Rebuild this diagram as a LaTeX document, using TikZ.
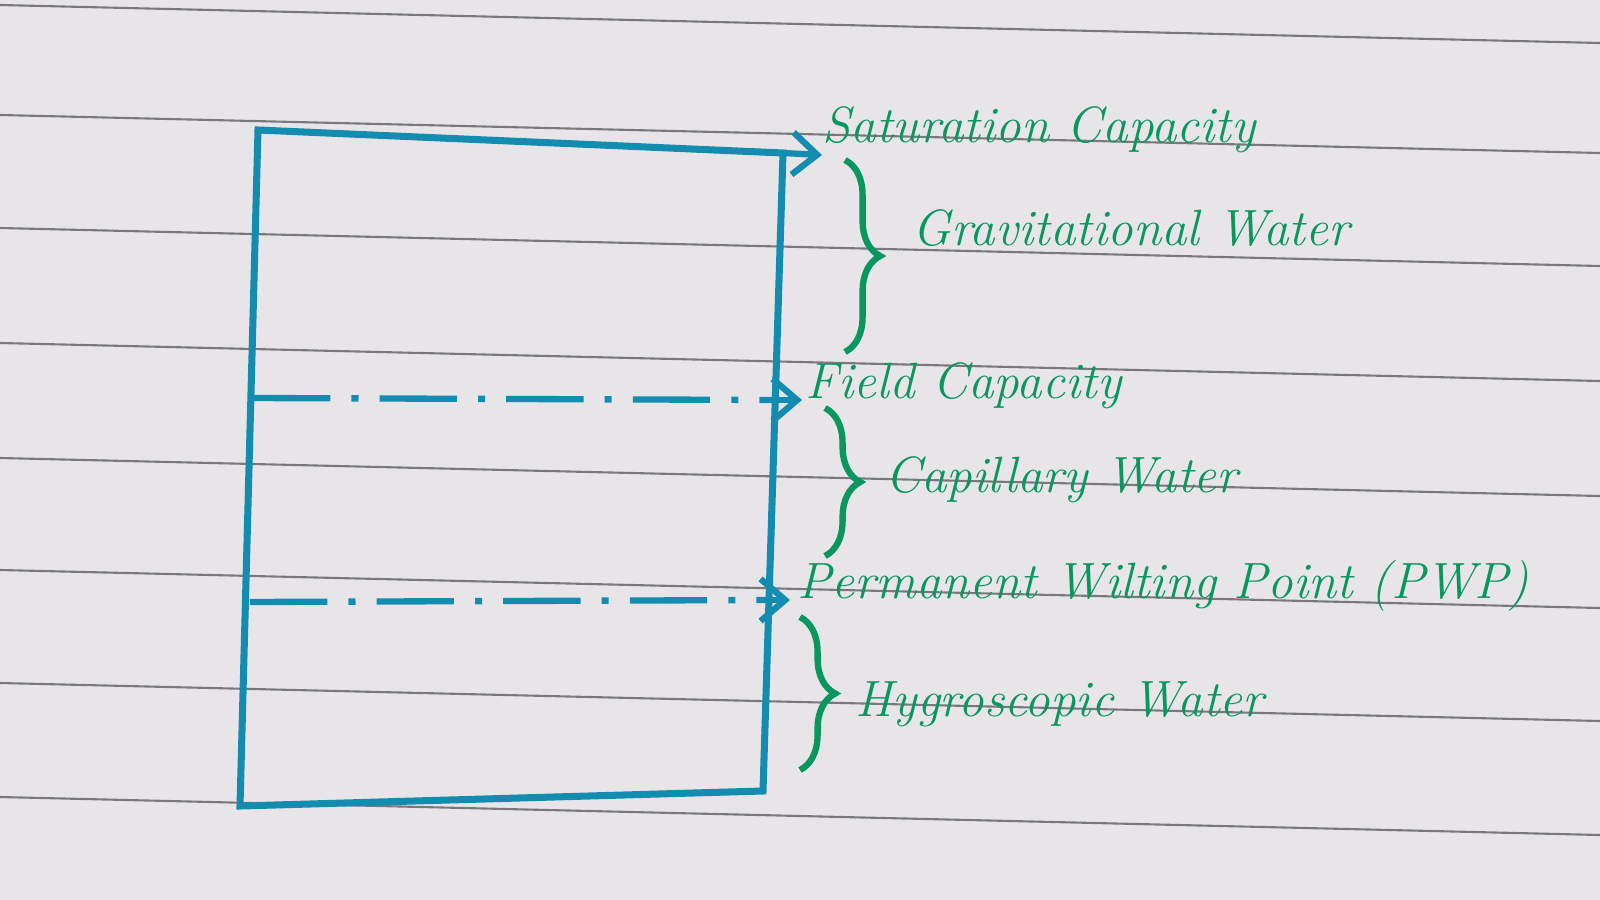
\documentclass[tikz,border=0pt]{standalone}
\usetikzlibrary{decorations.pathreplacing,arrows.meta}
\definecolor{paper}{RGB}{232,229,233}
\definecolor{rule}{RGB}{120,120,125}
\definecolor{ink}{RGB}{20,140,175}
\definecolor{gink}{RGB}{10,150,95}
\tikzset{
  ruled/.style={rule,line width=0.6pt},
  boxline/.style={ink,line width=2pt},
  level/.style={ink,line width=1.8pt,dash pattern=on 22pt off 6pt on 2pt off 6pt},
  lab/.style={gink,anchor=west,font=\fontsize{14.5}{17}\selectfont\itshape,inner sep=2pt},
  br/.style={gink,line width=1.8pt,decorate,decoration={brace,amplitude=10pt}},
  arr/.style={ink,line width=1.8pt,-{Straight Barb[length=7pt,width=12pt]}}
}
\begin{document}
\begin{tikzpicture}[x=0.01cm,y=-0.01cm]
\useasboundingbox[fill=paper] (0,0) rectangle (1600,900);
\foreach \y in {5,115,228,343,458,570,683,797}
  \draw[ruled] (0,\y) -- (1600,\y+38);
\coordinate (tl) at (258,130); \coordinate (tr) at (783,153);
\coordinate (brr) at (763,791); \coordinate (bl) at (240,806);
\draw[boxline] (tl) -- (tr) -- (brr) -- (bl) -- cycle;
\node[lab] (sat) at (815,130) {Saturation Capacity};
\node[lab] (grav) at (905,228) {Gravitational Water};
\node[lab] (fc) at (798,386) {Field Capacity};
\node[lab] (cap) at (878,480) {Capillary Water};
\node[lab] (pwp) at (790,586) {Permanent Wilting Point (PWP)};
\node[lab] (hyg) at (848,704) {Hygroscopic Water};
\coordinate (a1) at (822,155);
\draw[arr] (tr) -- (a1);
\coordinate (f0) at (253,398); \coordinate (f1) at (802,400);
\draw[level] (f0) -- (780,400);
\draw[arr] (770,400) -- (f1);
\coordinate (p0) at (250,602); \coordinate (p1) at (790,600);
\draw[level] (p0) -- (770,600);
\draw[arr] (760,600) -- (p1);
\draw[br] (845,160) -- (845,352);
\draw[br] (825,408) -- (825,556);
\draw[br] (800,617) -- (800,770);
\end{tikzpicture}
\end{document}
